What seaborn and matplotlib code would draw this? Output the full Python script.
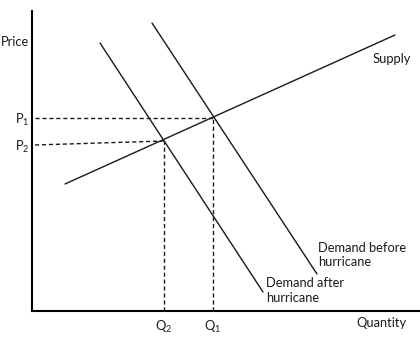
import matplotlib
matplotlib.use("Agg")
import matplotlib.pyplot as plt
import seaborn as sns
import pandas as pd

# curve endpoints (quantity, price) in chart units
supply_q = [33, 363]
supply_p = [127, 276]
demand_after_q = [68, 231]
demand_after_p = [268, 19]
demand_before_q = [120, 285]
demand_before_p = [288, 37]

# equilibrium guides
q_ticks = [132, 181]
q_labels = [r"$\mathregular{Q_2}$", r"$\mathregular{Q_1}$"]
p_ticks = [193, 166]
p_labels = [r"$\mathregular{P_1}$", r"$\mathregular{P_2}$"]
p1_guide_q = [3, 181]
p1_guide_p = [193, 193]
p2_guide_q = [3, 132]
p2_guide_p = [166, 170]
q1_guide_q = [181, 181]
q1_guide_p = [0, 193]
q2_guide_q = [132, 132]
q2_guide_p = [0, 170]

sns.set_style("white")
plt.rcParams['font.family'] = ['Lato', 'DejaVu Sans']
plt.rcParams['mathtext.fontset'] = 'custom'
plt.rcParams['mathtext.rm'] = 'Lato'
plt.rcParams['mathtext.it'] = 'Lato'
plt.rcParams['mathtext.bf'] = 'Lato:bold'

W, H = 420, 338
fig = plt.figure(figsize=(W / 100, H / 100), dpi=100)
ax = fig.add_axes([32 / W, (H - 311) / H, 388 / W, 300 / H])
ax.set_xlim(0, 388)
ax.set_ylim(0, 300)

col = "#1a1a1a"
for q, p in [(supply_q, supply_p), (demand_after_q, demand_after_p), (demand_before_q, demand_before_p)]:
    sns.lineplot(x=q, y=p, ax=ax, color=col, lw=1.0, sort=False, estimator=None)

for q, p in [(p1_guide_q, p1_guide_p), (p2_guide_q, p2_guide_p), (q1_guide_q, q1_guide_p), (q2_guide_q, q2_guide_p)]:
    sns.lineplot(x=q, y=p, ax=ax, color=col, lw=1.0, sort=False, estimator=None,
                 linestyle=(0, (3, 2)))

for s in ["top", "right"]:
    ax.spines[s].set_visible(False)
for s in ["left", "bottom"]:
    ax.spines[s].set_color("black")
    ax.spines[s].set_linewidth(1.5)

fs = 9.3
ax.set_xticks(q_ticks)
ax.set_xticklabels(q_labels, fontsize=fs, color=col)
ax.set_yticks(p_ticks)
ax.set_yticklabels(p_labels, fontsize=fs, color=col)
ax.tick_params(axis="both", length=0)
ax.tick_params(axis="x", pad=6)
ax.tick_params(axis="y", pad=2)
ax.set_xlabel("")
ax.set_ylabel("")

ax.text(-3, 269, "Price", ha="right", va="center", fontsize=fs, color=col, clip_on=False)
ax.text(349, -12, "Quantity", ha="center", va="center", fontsize=fs, color=col, clip_on=False)
ax.text(341, 252, "Supply", ha="left", va="center", fontsize=fs, color=col)
ax.text(286, 56, "Demand before\nhurricane", ha="left", va="center", fontsize=fs, color=col, linespacing=1.3)
ax.text(234, 20.5, "Demand after\nhurricane", ha="left", va="center", fontsize=fs, color=col, linespacing=1.3)

fig.savefig("out.png", dpi=100)
